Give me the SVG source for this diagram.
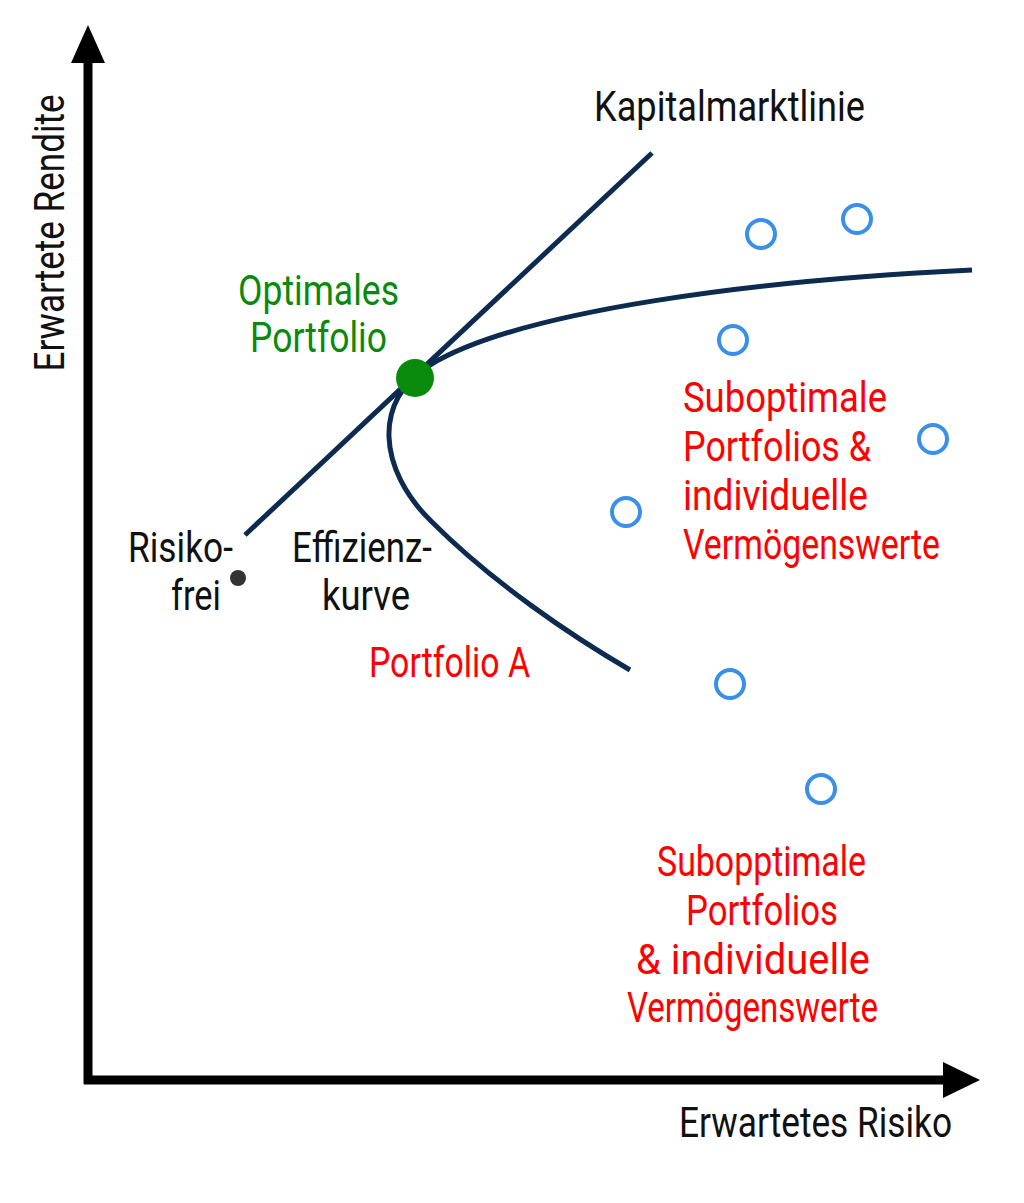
<svg xmlns="http://www.w3.org/2000/svg" width="1024" height="1203" viewBox="0 0 1024 1203">
<style>
text{font-family:Roboto,"Liberation Sans",sans-serif;font-size:42px}
.k{fill:#111}
.g{fill:#0a8a0a}
.r{fill:#ff0000}
.curve{fill:none;stroke:#0d2a4f;stroke-width:5;stroke-linecap:butt}
.asset{fill:none;stroke:#3a8fe8;stroke-width:4}
</style>
<rect width="1024" height="1203" fill="#fff"/>
<g id="axes">
<line x1="88" y1="1084" x2="88" y2="60" stroke="#000" stroke-width="9"/>
<polygon points="88,25 71,63 105,63" fill="#000"/>
<line x1="84" y1="1080" x2="945" y2="1080" stroke="#000" stroke-width="9"/>
<polygon points="980,1080 943,1062 943,1098" fill="#000"/>
<text class="k" transform="translate(64,233) rotate(-90)" text-anchor="middle" textLength="277" lengthAdjust="spacingAndGlyphs">Erwartete Rendite</text>
<text class="k" x="679" y="1137" textLength="273" lengthAdjust="spacingAndGlyphs">Erwartetes Risiko</text>
</g>
<g id="connectors">
<line class="curve" x1="245" y1="535" x2="652" y2="153"/>
<path class="curve" d="M972 270 C760 280 520 310 430 365 C372 400 378 470 432 522 C492 582 570 635 630 670"/>
</g>
<g id="kapitalmarktlinie">
<text class="k" x="594" y="121" textLength="271" lengthAdjust="spacingAndGlyphs">Kapitalmarktlinie</text>
</g>
<g id="optimales-portfolio">
<circle cx="415" cy="378" r="19" fill="#0a8a0a"/>
<text class="g" x="238" y="305" textLength="161" lengthAdjust="spacingAndGlyphs">Optimales</text>
<text class="g" x="250" y="352" textLength="137" lengthAdjust="spacingAndGlyphs">Portfolio</text>
</g>
<g id="risikofrei">
<circle cx="238" cy="578" r="8" fill="#333"/>
<text class="k" x="128" y="562" textLength="105" lengthAdjust="spacingAndGlyphs">Risiko-</text>
<text class="k" x="171" y="610" textLength="50" lengthAdjust="spacingAndGlyphs">frei</text>
</g>
<g id="effizienzkurve">
<text class="k" x="292" y="562" textLength="140" lengthAdjust="spacingAndGlyphs">Effizienz-</text>
<text class="k" x="322" y="610" textLength="88" lengthAdjust="spacingAndGlyphs">kurve</text>
</g>
<g id="portfolio-a">
<text class="r" x="369" y="677" textLength="161" lengthAdjust="spacingAndGlyphs">Portfolio A</text>
</g>
<g id="suboptimal-1">
<text class="r" x="683" y="412" textLength="204" lengthAdjust="spacingAndGlyphs">Suboptimale</text>
<text class="r" x="683" y="461" textLength="188" lengthAdjust="spacingAndGlyphs">Portfolios &amp;</text>
<text class="r" x="683" y="510" textLength="185" lengthAdjust="spacingAndGlyphs">individuelle</text>
<text class="r" x="683" y="559" textLength="257" lengthAdjust="spacingAndGlyphs">Vermögenswerte</text>
</g>
<g id="suboptimal-2">
<text class="r" x="657" y="876" textLength="209" lengthAdjust="spacingAndGlyphs">Subopptimale</text>
<text class="r" x="686" y="925" textLength="152" lengthAdjust="spacingAndGlyphs">Portfolios</text>
<text class="r" x="636" y="974" textLength="234" lengthAdjust="spacingAndGlyphs">&amp; individuelle</text>
<text class="r" x="627" y="1022" textLength="251" lengthAdjust="spacingAndGlyphs">Vermögenswerte</text>
</g>
<g id="assets">
<circle class="asset" cx="761" cy="234" r="14"/>
<circle class="asset" cx="857" cy="219" r="14"/>
<circle class="asset" cx="733" cy="340" r="14"/>
<circle class="asset" cx="933" cy="439" r="14"/>
<circle class="asset" cx="626" cy="512" r="14"/>
<circle class="asset" cx="730" cy="684" r="14"/>
<circle class="asset" cx="821" cy="789" r="14"/>
</g>
</svg>
